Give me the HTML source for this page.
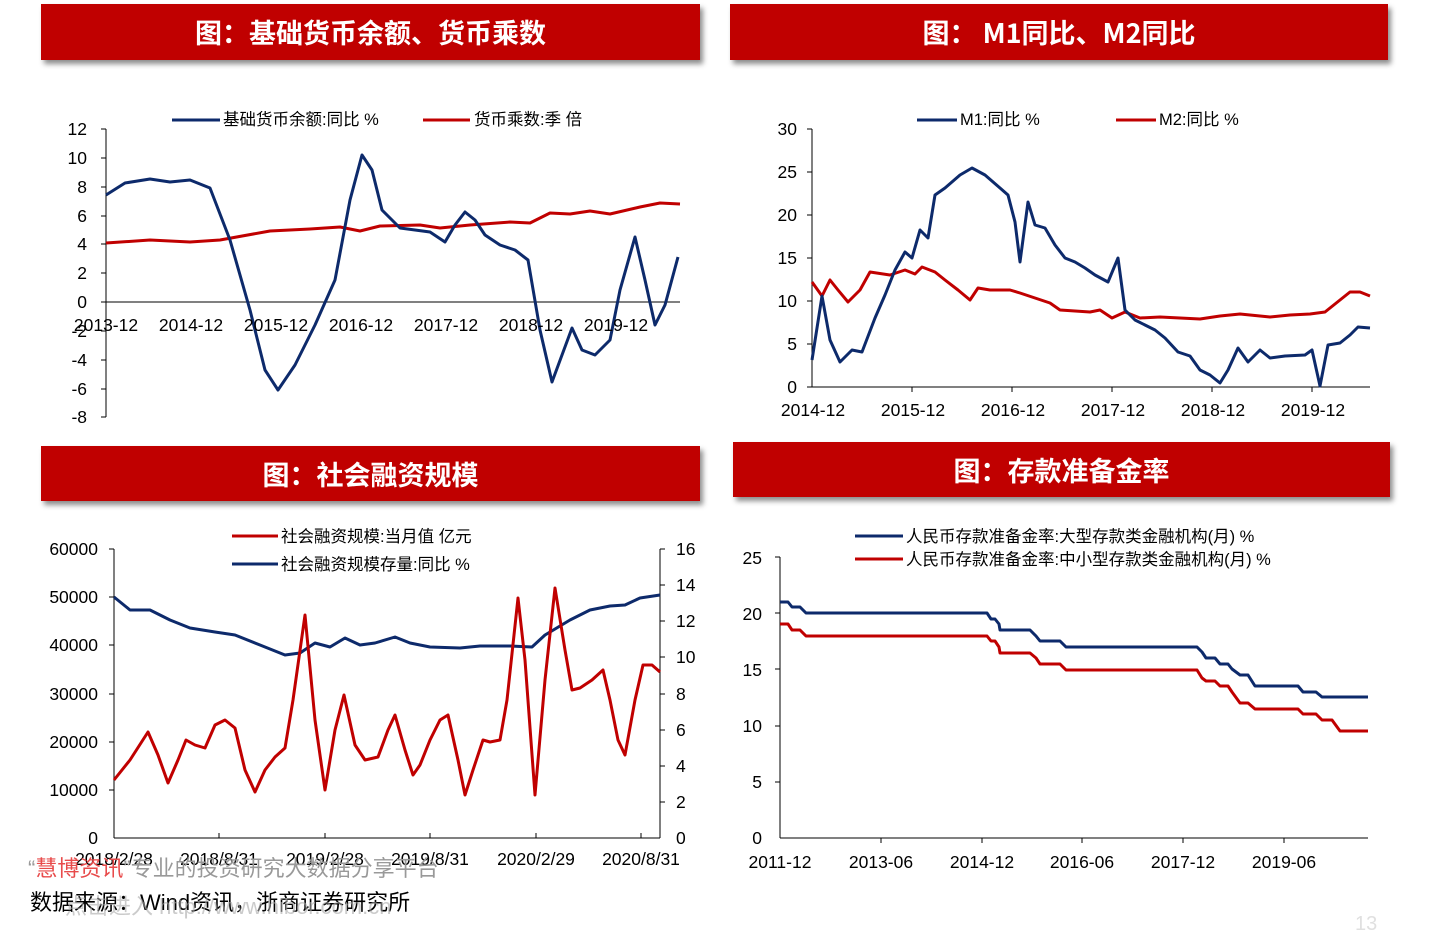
<!DOCTYPE html>
<html><head><meta charset="utf-8"><style>
body{margin:0;width:1440px;height:935px;background:#fff;overflow:hidden;position:relative;font-family:"Liberation Sans","Noto Sans CJK SC",sans-serif}
.b{position:absolute;background:#c00000;color:#fff;font-weight:bold;font-size:27px;text-align:center;box-shadow:3px 4px 5px rgba(0,0,0,.45);font-family:"Noto Sans CJK SC",sans-serif}
svg{position:absolute;left:0;top:0}
text{font-family:"Liberation Sans","Noto Sans CJK SC",sans-serif;font-size:17.5px;fill:#000}
.lg{font-size:16.5px}
</style></head><body>
<div class="b" style="left:41px;top:4px;width:659px;height:56px;line-height:56px">图：基础货币余额、货币乘数</div>
<div class="b" style="left:730px;top:4px;width:658px;height:56px;line-height:56px">图： M1同比、M2同比</div>
<div class="b" style="left:41px;top:446px;width:659px;height:55px;line-height:55px">图：社会融资规模</div>
<div class="b" style="left:733px;top:442px;width:657px;height:55px;line-height:55px">图：存款准备金率</div>
<svg width="1440" height="935" viewBox="0 0 1440 935">
<g fill="none" stroke-width="3" stroke-linejoin="round">
<line x1="106" y1="129" x2="106" y2="417" stroke="#000" stroke-width="1"/>
<line x1="106" y1="302" x2="680" y2="302" stroke="#000" stroke-width="1"/>
<polyline stroke="#c00000" points="106,243 150,240 190,242 220,240 270,231 310,229 340,227 360,231 380,226 420,225 440,228 470,225 510,222 530,223 550,213 570,214 590,211 610,214 640,207 660,203 680,204"/>
<polyline stroke="#0d2a6b" points="106,195 125,183 150,179 170,182 190,180 210,188 230,240 250,310 265,370 278,390 295,365 315,325 335,280 350,200 362,155 372,170 382,210 400,228 415,230 430,232 445,242 455,225 465,212 475,220 485,235 500,245 515,250 528,260 540,330 552,382 562,355 572,328 582,350 595,355 610,340 620,290 635,237 645,280 655,325 665,305 678,257"/>
<line x1="172" y1="120" x2="220" y2="120" stroke="#0d2a6b"/><line x1="423" y1="120" x2="470" y2="120" stroke="#c00000"/>
<line x1="812" y1="129" x2="812" y2="387" stroke="#000" stroke-width="1"/>
<line x1="812" y1="387" x2="1370" y2="387" stroke="#000" stroke-width="1"/>
<polyline stroke="#c00000" points="812,282 822,296 830,280 838,290 848,302 860,290 870,272 890,275 905,270 915,274 922,267 935,272 945,280 958,290 970,300 978,288 990,290 1010,290 1020,293 1035,298 1050,303 1060,310 1075,311 1090,312 1100,310 1112,318 1125,312 1140,318 1160,317 1180,318 1200,319 1220,316 1240,314 1270,317 1290,315 1310,314 1325,312 1340,300 1350,292 1360,292 1370,296"/>
<polyline stroke="#0d2a6b" points="812,360 822,296 830,340 840,362 852,350 862,352 875,318 885,295 895,270 905,252 912,258 920,230 928,238 935,195 945,188 960,175 972,168 985,175 1000,188 1008,195 1015,222 1020,262 1028,202 1035,225 1045,228 1055,245 1065,258 1075,262 1085,268 1095,275 1108,282 1118,258 1125,310 1135,320 1145,325 1155,330 1165,338 1178,352 1190,356 1200,370 1210,375 1220,383 1228,370 1238,348 1248,362 1260,350 1270,358 1285,356 1305,355 1312,350 1320,386 1328,345 1340,343 1350,335 1358,327 1370,328"/>
<line x1="917" y1="120" x2="957" y2="120" stroke="#0d2a6b"/><line x1="1116" y1="120" x2="1156" y2="120" stroke="#c00000"/>
<line x1="114" y1="549" x2="114" y2="838" stroke="#000" stroke-width="1"/>
<line x1="660" y1="549" x2="660" y2="838" stroke="#000" stroke-width="1"/>
<line x1="114" y1="838" x2="660" y2="838" stroke="#000" stroke-width="1"/>
<polyline stroke="#0d2a6b" points="114,597 130,610 150,610 170,620 190,628 215,632 235,635 260,645 285,655 300,653 315,643 330,647 345,638 360,645 375,643 395,637 410,643 430,647 460,648 480,646 510,646 532,647 545,635 570,620 590,610 610,606 625,605 640,598 660,595"/>
<polyline stroke="#c00000" points="114,780 130,760 148,732 158,755 168,783 178,760 186,740 195,745 205,748 215,725 225,720 235,728 245,770 255,792 265,770 275,757 285,748 293,700 305,615 315,720 325,790 335,730 344,695 355,745 365,760 378,757 388,730 395,715 405,750 413,775 420,765 430,740 440,720 448,715 458,760 465,795 473,770 483,740 490,742 500,740 507,700 518,598 525,660 535,795 545,680 555,588 565,650 572,690 580,688 592,680 603,670 610,700 618,740 625,755 635,700 643,665 652,665 660,672"/>
<line x1="232" y1="536" x2="278" y2="536" stroke="#c00000"/><line x1="232" y1="564" x2="278" y2="564" stroke="#0d2a6b"/>
<line x1="780" y1="557" x2="780" y2="838" stroke="#000" stroke-width="1"/>
<line x1="780" y1="838" x2="1368" y2="838" stroke="#000" stroke-width="1"/>
<polyline stroke="#0d2a6b" points="780,602 788,602 792,607 800,607 806,613 987,613 991,619 995,619 999,624 1000,630 1030,630 1036,636 1040,641 1060,641 1066,647 1197,647 1202,652 1206,658 1215,658 1220,664 1228,664 1232,669 1240,675 1248,675 1255,686 1298,686 1303,692 1316,692 1322,697 1368,697"/>
<polyline stroke="#c00000" points="780,624 788,624 792,630 800,630 806,636 987,636 991,641 995,641 999,647 1000,653 1030,653 1036,658 1040,664 1060,664 1066,670 1197,670 1202,678 1206,681 1215,681 1220,686 1228,686 1232,692 1240,703 1248,703 1255,709 1298,709 1303,714 1316,714 1322,720 1332,720 1340,731 1368,731"/>
<line x1="855" y1="536" x2="903" y2="536" stroke="#0d2a6b"/><line x1="855" y1="559" x2="903" y2="559" stroke="#c00000"/>
</g>
<g stroke="#000" stroke-width="1">
<path d="M101,129h5M101,158h5M101,187h5M101,216h5M101,244h5M101,273h5M101,302h5M101,331h5M101,360h5M101,389h5M101,417h5"/>
<path d="M807,129h5M807,172h5M807,215h5M807,258h5M807,301h5M807,344h5M807,387h5M912,387v5M1012,387v5M1112,387v5M1212,387v5M1312,387v5"/>
<path d="M109,549h5M109,597h5M109,645h5M109,694h5M109,742h5M109,790h5M660,549h5M660,585h5M660,621h5M660,657h5M660,694h5M660,730h5M660,766h5M660,802h5M219,838v-5M325,838v-5M430,838v-5M536,838v-5M641,838v-5"/>
<path d="M775,557h5M775,613h5M775,669h5M775,726h5M775,782h5M881,838v5M982,838v5M1082,838v5M1183,838v5M1284,838v5"/>
</g>
<g text-anchor="end">
<text x="87" y="135">12</text><text x="87" y="164">10</text><text x="87" y="193">8</text><text x="87" y="222">6</text><text x="87" y="250">4</text><text x="87" y="279">2</text><text x="87" y="308">0</text><text x="87" y="337">-2</text><text x="87" y="366">-4</text><text x="87" y="395">-6</text><text x="87" y="423">-8</text>
<text x="797" y="135">30</text><text x="797" y="178">25</text><text x="797" y="221">20</text><text x="797" y="264">15</text><text x="797" y="307">10</text><text x="797" y="350">5</text><text x="797" y="393">0</text>
<text x="98" y="555">60000</text><text x="98" y="603">50000</text><text x="98" y="651">40000</text><text x="98" y="700">30000</text><text x="98" y="748">20000</text><text x="98" y="796">10000</text><text x="98" y="844">0</text>
<text x="762" y="564">25</text><text x="762" y="620">20</text><text x="762" y="676">15</text><text x="762" y="732">10</text><text x="762" y="788">5</text><text x="762" y="844">0</text>
</g>
<g text-anchor="start">
<text x="676" y="555">16</text><text x="676" y="591">14</text><text x="676" y="627">12</text><text x="676" y="663">10</text><text x="676" y="700">8</text><text x="676" y="736">6</text><text x="676" y="772">4</text><text x="676" y="808">2</text><text x="676" y="844">0</text>
</g>
<g text-anchor="middle">
<text x="106" y="331">2013-12</text><text x="191" y="331">2014-12</text><text x="276" y="331">2015-12</text><text x="361" y="331">2016-12</text><text x="446" y="331">2017-12</text><text x="531" y="331">2018-12</text><text x="616" y="331">2019-12</text>
<text x="813" y="416">2014-12</text><text x="913" y="416">2015-12</text><text x="1013" y="416">2016-12</text><text x="1113" y="416">2017-12</text><text x="1213" y="416">2018-12</text><text x="1313" y="416">2019-12</text>
<text x="114" y="865">2018/2/28</text><text x="219" y="865">2018/8/31</text><text x="325" y="865">2019/2/28</text><text x="430" y="865">2019/8/31</text><text x="536" y="865">2020/2/29</text><text x="641" y="865">2020/8/31</text>
<text x="780" y="868">2011-12</text><text x="881" y="868">2013-06</text><text x="982" y="868">2014-12</text><text x="1082" y="868">2016-06</text><text x="1183" y="868">2017-12</text><text x="1284" y="868">2019-06</text>
</g>
<text class="lg" x="223" y="125">基础货币余额:同比 %</text><text class="lg" x="474" y="125">货币乘数:季 倍</text>
<text class="lg" x="960" y="125">M1:同比 %</text><text class="lg" x="1159" y="125">M2:同比 %</text>
<text class="lg" x="281" y="542">社会融资规模:当月值 亿元</text><text class="lg" x="281" y="570">社会融资规模存量:同比 %</text>
<text class="lg" x="906" y="542">人民币存款准备金率:大型存款类金融机构(月) %</text><text class="lg" x="906" y="565">人民币存款准备金率:中小型存款类金融机构(月) %</text>
<text x="28" y="876" style="font-size:22px;fill:#999">“<tspan style="fill:#e84b4b">慧博资讯</tspan>”专业的投资研究大数据分享平台</text>
<text x="30" y="910" style="font-size:22px">数据来源：Wind资讯，浙商证券研究所</text>
<text x="65" y="914" style="font-size:22px;fill:#aaa;opacity:.6">点击进入 http://www.hibor.com.cn</text>
<text x="1355" y="930" style="font-size:20px;fill:#e0e0e0">13</text>
</svg>
</body></html>
